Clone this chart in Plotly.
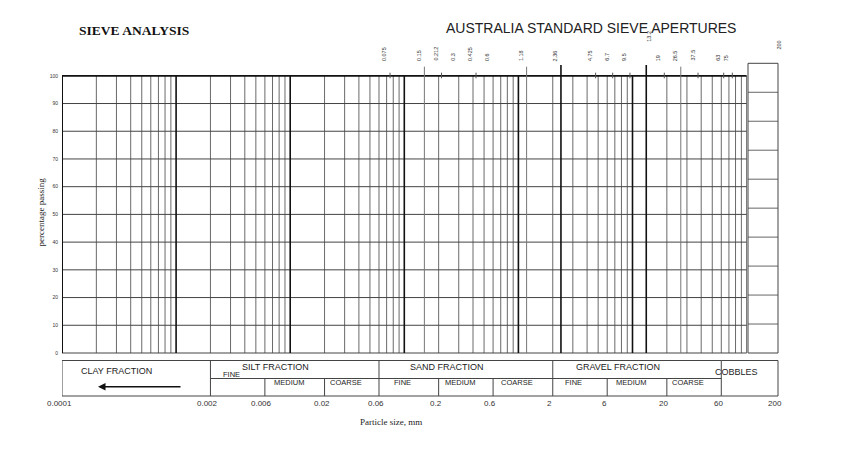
import numpy as np
import plotly.graph_objects as go

# ---------------- data ----------------
y_ticks = [0, 10, 20, 30, 40, 50, 60, 70, 80, 90, 100]
grid_decades = [0.0001, 0.001, 0.01, 0.1, 1, 10]
grid_multiples = [1, 2, 3, 4, 5, 6, 7, 8, 9]
grid_max = 100

sieve_sizes = [0.075, 0.15, 0.212, 0.3, 0.425, 0.6, 1.18, 2.36, 4.75, 6.7, 9.5,
               13.2, 19, 26.5, 37.5, 63, 75]
sieve_labels = ["0.075", "0.15", "0.212", "0.3", "0.425", "0.6", "1.18", "2.36",
                "4.75", "6.7", "9.5", "13.2", "19", "26.5", "37.5", "63", "75"]
extended_sieves = [0.15, 1.18, 2.36, 13.2, 26.5]
heavy_sieves = [2.36, 13.2]
extra_sieve_label = "200"

size_ticks = [0.0001, 0.002, 0.006, 0.02, 0.06, 0.2, 0.6, 2, 6, 20, 60, 200]
size_tick_labels = ["0.0001", "0.002", "0.006", "0.02", "0.06", "0.2", "0.6",
                    "2", "6", "20", "60", "200"]

fraction_names = ["CLAY FRACTION", "SILT FRACTION", "SAND FRACTION",
                  "GRAVEL FRACTION", "COBBLES"]
fraction_bounds = [0.0001, 0.002, 0.06, 2, 60, 200]
sub_names = ["FINE", "MEDIUM", "COARSE"]
silt_bounds = [0.002, 0.006, 0.02, 0.06]
sand_bounds = [0.06, 0.2, 0.6, 2]
gravel_bounds = [2, 6, 20, 60]

# ---------------- page geometry (window pixels, page body offset 8px) ----------------
OFF = 8
W, H = 841, 450
PX_LEFT, PX_PER_DEC, PLOT_W = 62, 114.1, 725
Y0_PX, Y100_PX = 353.0, 75.8
SCALE = (Y0_PX - Y100_PX) / 100.0
X_RANGE = [-4, -4 + PLOT_W / PX_PER_DEC]
Y_RANGE = [-(H - (Y0_PX - OFF)) / SCALE, (Y0_PX - OFF) / SCALE]


def ypx(p):
    return (Y0_PX - p) / SCALE


def xval(p):
    return 10 ** (-4 + (p - PX_LEFT) / PX_PER_DEC)


def xpaper(p):
    return (p - PX_LEFT) / PLOT_W


CHART_RIGHT = xval(778)
BOX_LEFT = xval(748)
BOX_TOP = ypx(63.3)
T, M, B = ypx(360.5), ypx(378.5), ypx(396)

fig = go.Figure()


def segs(pairs, color, width):
    xs, ys = [], []
    for (x0, y0, x1, y1) in pairs:
        xs += [x0, x1, None]
        ys += [y0, y1, None]
    fig.add_trace(go.Scatter(x=xs, y=ys, mode="lines",
                             line=dict(color=color, width=width),
                             hoverinfo="skip", showlegend=False))


# grid
minor, major = [], []
for d in grid_decades:
    for k in grid_multiples:
        v = k * d
        if k == 1:
            if d != grid_decades[0]:
                major.append((v, 0, v, 100))
        else:
            minor.append((v, 0, v, 100))
segs(minor, "#6a6a6a", 1)
segs([(grid_max, 0, grid_max, 100)], "#707070", 1)
segs([(grid_decades[0], y, grid_max, y) for y in y_ticks[1:-1]], "#444444", 1)
segs([(grid_decades[0], 0, grid_max, 0)], "#444444", 1)
segs(major, "#111111", 1.6)
segs([(grid_decades[0], 100, grid_max, 100)], "#111111", 1.8)
segs([(grid_decades[0], 0, grid_decades[0], 100)], "#111111", 2)

# sieve marks
tall_top = ypx(66.7)
light_ext = [s for s in extended_sieves if s not in heavy_sieves]
segs([(s, 0, s, tall_top) for s in light_ext], "#777777", 1)
segs([(s, 0, s, ypx(65)) for s in heavy_sieves], "#111111", 1.6)
small = [s for s in sieve_sizes if s not in extended_sieves and s not in (0.3, 0.6)]
segs([(s, ypx(78.3), s, ypx(72.7)) for s in small], "#555555", 1)

# right-hand box
box_lines = [(BOX_LEFT, BOX_TOP * i / 10, CHART_RIGHT, BOX_TOP * i / 10) for i in range(1, 10)]
segs(box_lines, "#666666", 1)
segs([(BOX_LEFT, 0, BOX_LEFT, BOX_TOP), (BOX_LEFT, BOX_TOP, CHART_RIGHT, BOX_TOP),
      (CHART_RIGHT, BOX_TOP, CHART_RIGHT, 0), (CHART_RIGHT, 0, BOX_LEFT, 0)], "#444444", 1)

# fraction table
tbl = []
tbl.append((fraction_bounds[0], T, fraction_bounds[4], T))
tbl.append((fraction_bounds[0], B, fraction_bounds[4], B))
for b in fraction_bounds[:5]:
    tbl.append((b, T, b, B))
tbl.append((fraction_bounds[1], M, fraction_bounds[4], M))
for bounds in (silt_bounds, sand_bounds, gravel_bounds):
    for b in bounds[1:-1]:
        tbl.append((b, M, b, B))
tbl += [(fraction_bounds[4], T, CHART_RIGHT, T), (CHART_RIGHT, T, CHART_RIGHT, B),
        (CHART_RIGHT, B, fraction_bounds[4], B)]
segs(tbl, "#444444", 1)

ann = []
SANS = "Liberation Sans, Arial, sans-serif"
SERIF = "Liberation Serif, Times New Roman, serif"

# sieve labels (rotated)
for s, lab in zip(sieve_sizes, sieve_labels):
    if s == 13.2:
        ann.append(dict(x=np.log10(s), y=ypx(44), xshift=2, text=lab))
    else:
        ann.append(dict(x=np.log10(s), y=ypx(63), xshift=-6, text=lab))
ann.append(dict(x=np.log10(CHART_RIGHT), y=ypx(52), xshift=0, text=extra_sieve_label))
for a in ann:
    a.update(xref="x", yref="y", textangle=-90, xanchor="center", yanchor="bottom",
             showarrow=False, font=dict(family=SANS, size=5.5, color="#333"))

# bottom size labels
for v, lab in zip(size_ticks, size_tick_labels):
    xx = CHART_RIGHT if v == 200 else v
    ann.append(dict(x=np.log10(xx), y=ypx(403), xshift=-3, text=lab, xref="x", yref="y",
                    showarrow=False, xanchor="center", yanchor="middle",
                    font=dict(family=SANS, size=8, color="#333")))

# fraction names
for i, name in enumerate(fraction_names):
    lo = fraction_bounds[i]
    hi = CHART_RIGHT if i == 4 else fraction_bounds[i + 1]
    mid = (np.log10(lo) + np.log10(hi)) / 2
    if i == 0:
        yy, sh = ypx(370.7), -20
    elif i == 4:
        yy, sh = ypx(371.7), -13
    else:
        yy, sh = ypx(366.7), -19
    ann.append(dict(x=mid, y=yy, xshift=sh, text=name, xref="x", yref="y",
                    showarrow=False, xanchor="center", yanchor="middle",
                    font=dict(family=SANS, size=9, color="#222")))

# sub-fraction names
for bounds in (silt_bounds, sand_bounds, gravel_bounds):
    for j, name in enumerate(sub_names):
        mid = (np.log10(bounds[j]) + np.log10(bounds[j + 1])) / 2
        yy = ypx(374) if (bounds is silt_bounds and j == 0) else ypx(382.5)
        ann.append(dict(x=mid, y=yy, xshift=-6, text=name, xref="x", yref="y",
                        showarrow=False, xanchor="center", yanchor="middle",
                        font=dict(family=SANS, size=7.5, color="#222")))

# clay arrow
ann.append(dict(x=np.log10(fraction_bounds[0]), y=ypx(386.7), xshift=36, text="",
                xref="x", yref="y", showarrow=True, ax=84, ay=0, arrowhead=2,
                arrowsize=1, arrowwidth=1.5, arrowcolor="#111"))

# titles
ann.append(dict(x=xpaper(134), y=ypx(30), text="<b>SIEVE ANALYSIS</b>", xref="paper", yref="y",
                showarrow=False, xanchor="center", yanchor="middle",
                font=dict(family=SERIF, size=13.5, color="#111")))
ann.append(dict(x=xpaper(591), y=ypx(27.5), text="AUSTRALIA STANDARD SIEVE APERTURES",
                xref="paper", yref="y", showarrow=False, xanchor="center", yanchor="middle",
                font=dict(family=SANS, size=14, color="#222")))
ann.append(dict(x=xpaper(40.5), y=ypx(212), text="percentage passing", xref="paper", yref="y",
                showarrow=False, textangle=-90, xanchor="center", yanchor="middle",
                font=dict(family=SERIF, size=9, color="#222")))
ann.append(dict(x=xpaper(391), y=ypx(421.7), text="Particle size, mm", xref="paper", yref="y",
                showarrow=False, xanchor="center", yanchor="middle",
                font=dict(family=SERIF, size=9, color="#222")))

fig.update_layout(
    width=W, height=H,
    margin=dict(l=PX_LEFT - OFF, r=W - (PX_LEFT - OFF) - PLOT_W, t=0, b=0, pad=0,
                autoexpand=False),
    paper_bgcolor="white", plot_bgcolor="white",
    showlegend=False, hovermode=False,
    annotations=ann,
    xaxis=dict(type="log", range=X_RANGE, showgrid=False, zeroline=False,
               showline=False, showticklabels=False, ticks="", fixedrange=True),
    yaxis=dict(range=Y_RANGE, showgrid=False, zeroline=False, showline=False,
               tickvals=y_ticks, ticktext=[str(v) for v in y_ticks], ticks="",
               ticklabelstandoff=3,
               tickfont=dict(family=SANS, size=5, color="#333"), fixedrange=True),
)

fig.write_html("out.html", config=dict(displayModeBar=False))
